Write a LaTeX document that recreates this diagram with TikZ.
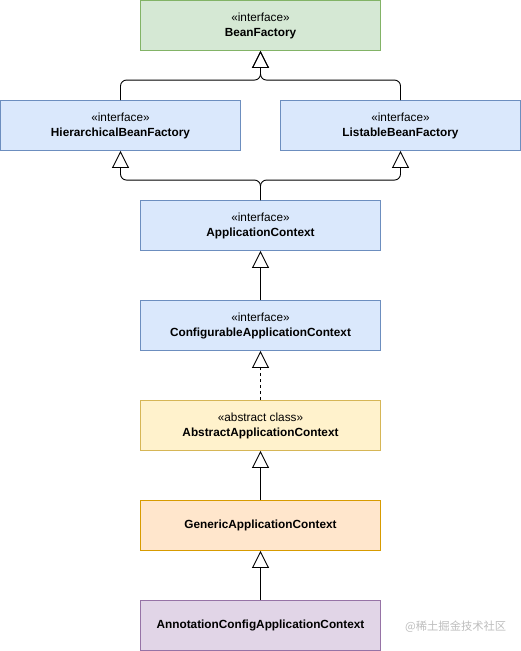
\documentclass[tikz,border=0pt]{standalone}
\usepackage{fontspec}
\setmainfont{Liberation Sans}
\newfontfamily\cjk{Noto Sans CJK SC}
\usetikzlibrary{arrows.meta}
\definecolor{gfill}{HTML}{D5E8D4}
\definecolor{gline}{HTML}{82B366}
\definecolor{bfill}{HTML}{DAE8FC}
\definecolor{bline}{HTML}{6C8EBF}
\definecolor{yfill}{HTML}{FFF2CC}
\definecolor{yline}{HTML}{D6B656}
\definecolor{ofill}{HTML}{FFE6CC}
\definecolor{oline}{HTML}{D79B00}
\definecolor{pfill}{HTML}{E1D5E7}
\definecolor{pline}{HTML}{9673A6}
\definecolor{wm}{HTML}{BDBDBD}
\begin{document}
\begin{tikzpicture}[x=1pt,y=-1pt,
  box/.style={draw, minimum width=240pt, minimum height=50pt, inner sep=0pt, align=center,
    font=\fontsize{11.8}{15}\selectfont, line width=0.9pt},
  green/.style={box, fill=gfill, draw=gline},
  blue/.style={box, fill=bfill, draw=bline},
  yellow/.style={box, fill=yfill, draw=yline},
  orange/.style={box, fill=ofill, draw=oline},
  purple/.style={box, fill=pfill, draw=pline},
  inh/.style={-{Triangle[open,length=17pt,width=17pt,line width=0.9pt]}, line width=0.9pt, rounded corners=6pt},
  real/.style={inh, dashed, dash pattern=on 3pt off 3pt}]
\useasboundingbox (0,0) rectangle (521,651);
\node[green] (bf) at (260.5,25.5) {«interface»\\\textbf{BeanFactory}};
\node[blue] (hbf) at (120.5,125.5) {«interface»\\\textbf{HierarchicalBeanFactory}};
\node[blue] (lbf) at (400.5,125.5) {«interface»\\\textbf{ListableBeanFactory}};
\node[blue] (ac) at (260.5,225.5) {«interface»\\\textbf{ApplicationContext}};
\node[blue] (cac) at (260.5,325.5) {«interface»\\\textbf{ConfigurableApplicationContext}};
\node[yellow] (aac) at (260.5,425.5) {«abstract class»\\\textbf{AbstractApplicationContext}};
\node[orange] (gac) at (260.5,525.5) {\textbf{GenericApplicationContext}};
\node[purple] (acac) at (260.5,625.5) {\textbf{AnnotationConfigApplicationContext}};
\node[text=wm, font=\cjk\fontsize{11.3}{13}\selectfont, anchor=west, inner sep=0pt] (wmk) at (405,627) {@稀土掘金技术社区};
\draw[inh] (hbf.north) -- ++(0,-20) -| (bf.south);
\draw[inh] (lbf.north) -- ++(0,-20) -| (bf.south);
\draw[inh] (ac.north) -- ++(0,-20) -| (hbf.south);
\draw[inh] (ac.north) -- ++(0,-20) -| (lbf.south);
\draw[inh] (cac) -- (ac);
\draw[real] (aac) -- (cac);
\draw[inh] (gac) -- (aac);
\draw[inh] (acac) -- (gac);
\end{tikzpicture}
\end{document}
